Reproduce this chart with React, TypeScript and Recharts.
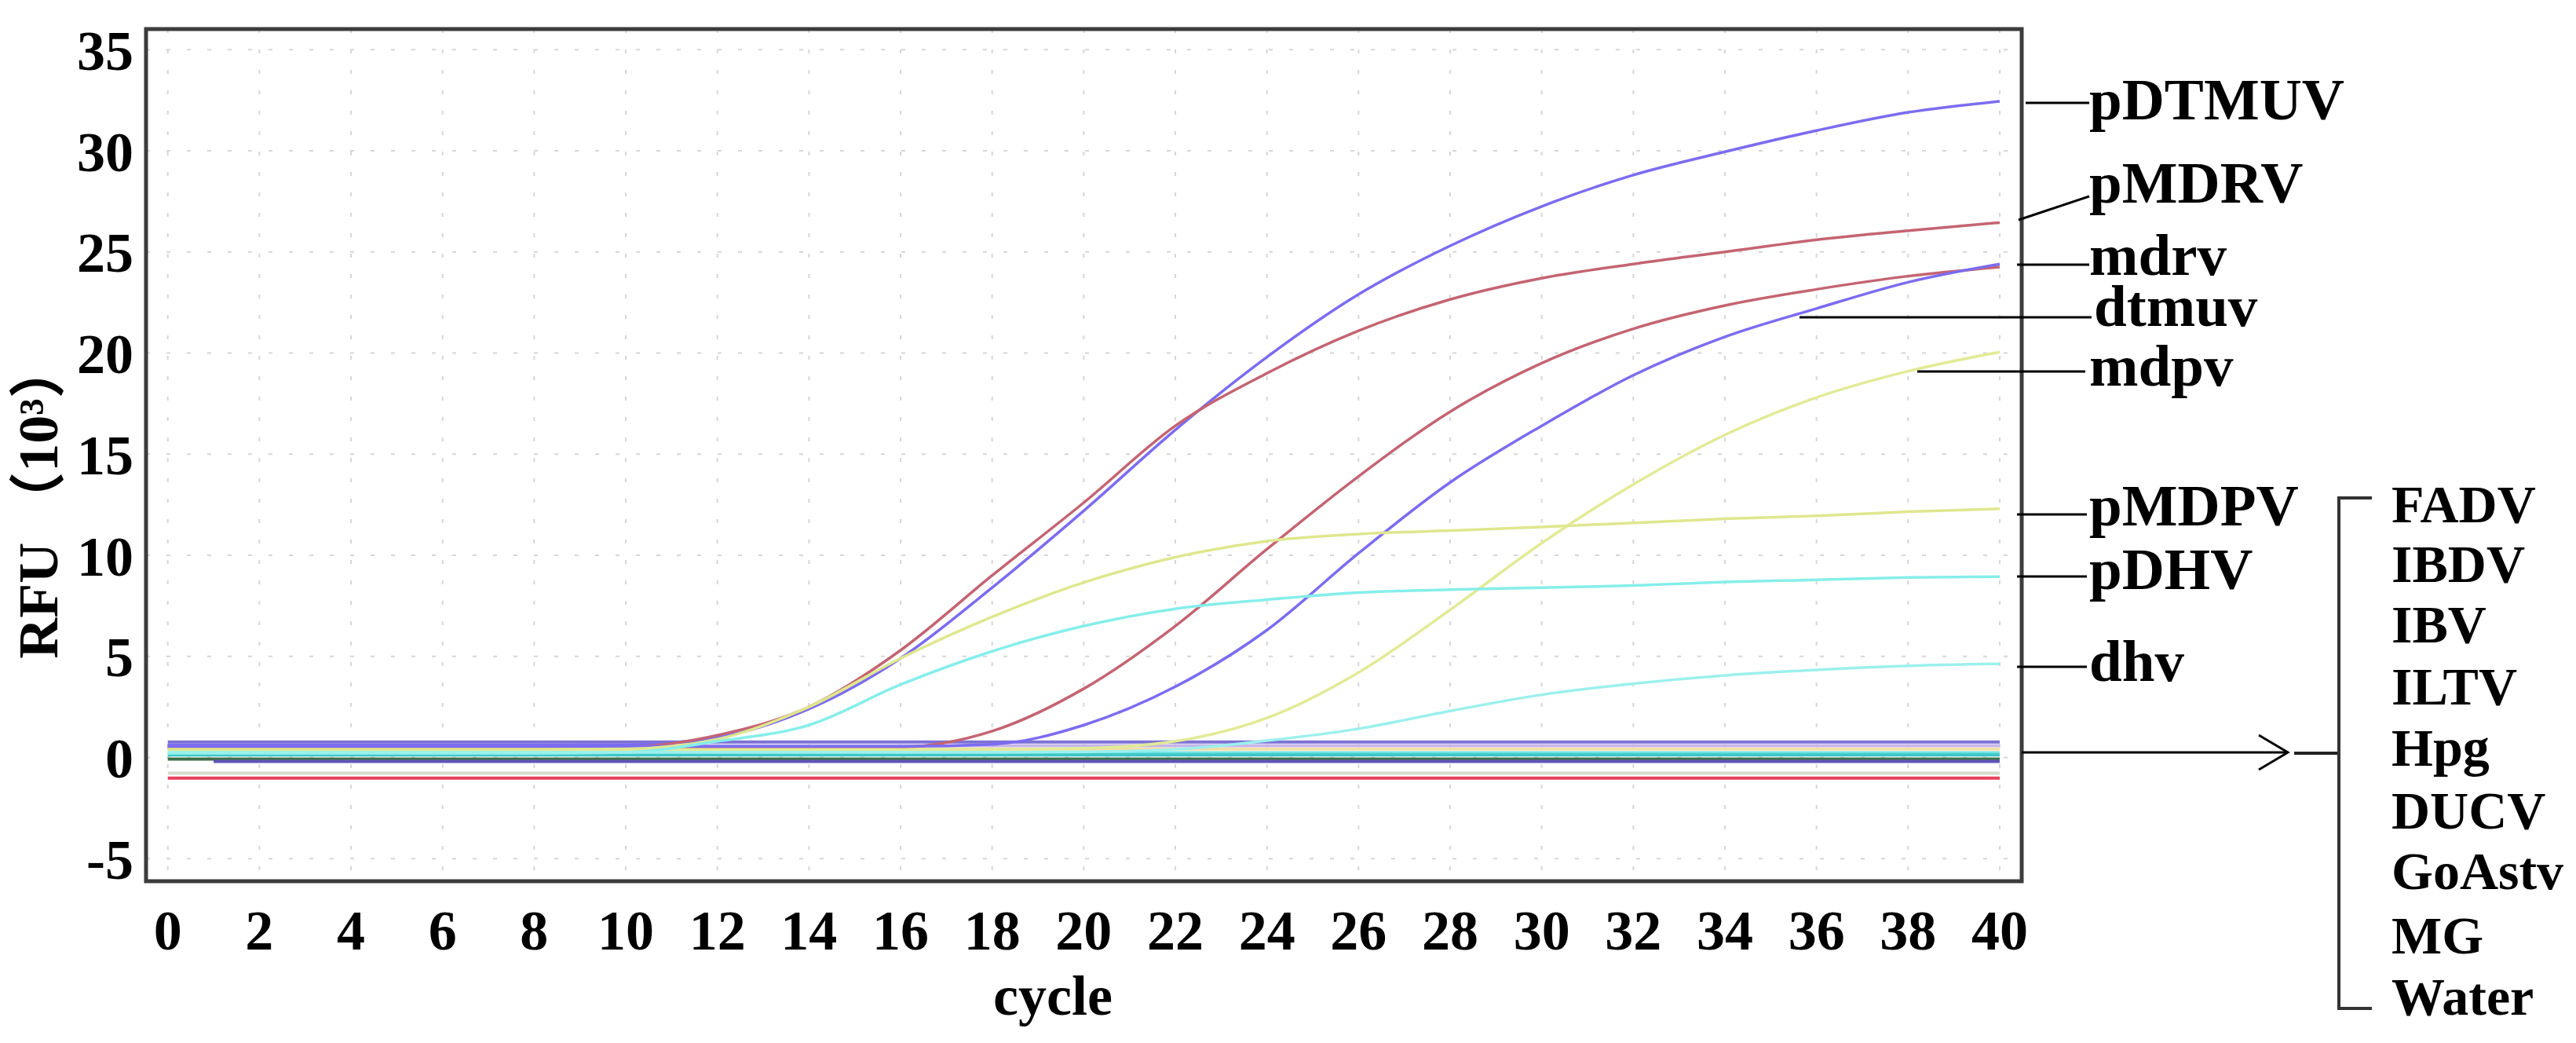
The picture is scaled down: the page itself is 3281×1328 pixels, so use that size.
import { LineChart, Line, XAxis, YAxis, CartesianGrid, ReferenceArea } from "recharts"

// cycles sampled every 2 for the amplification curves
const cycles = [0, 2, 4, 6, 8, 10, 12, 14, 16, 18, 20, 22, 24, 26, 28, 30, 32, 34, 36, 38, 40]

// RFU (x10^3)
const pDTMUV = [0.62, 0.62, 0.62, 0.62, 0.62, 0.63, 1.0, 2.4, 4.9, 8.4, 12.2, 16.2, 19.8, 22.9, 25.3, 27.25, 28.8, 29.95, 31.0, 31.9, 32.45]
const pMDRV = [0.5, 0.5, 0.5, 0.5, 0.5, 0.52, 1.1, 2.5, 5.3, 9.0, 12.6, 16.4, 19.0, 21.1, 22.65, 23.7, 24.4, 25.0, 25.6, 26.05, 26.45]
const mdrv = [0.45, 0.45, 0.45, 0.45, 0.45, 0.45, 0.45, 0.45, 0.5, 1.3, 3.4, 6.5, 10.3, 13.9, 17.1, 19.5, 21.2, 22.35, 23.15, 23.8, 24.25]
const dtmuv = [0.55, 0.55, 0.55, 0.55, 0.55, 0.55, 0.55, 0.55, 0.55, 0.65, 1.6, 3.5, 6.3, 10.1, 13.6, 16.4, 18.9, 20.8, 22.2, 23.5, 24.4]
const mdpv = [0.4, 0.4, 0.4, 0.4, 0.4, 0.4, 0.4, 0.4, 0.4, 0.4, 0.45, 0.8, 1.95, 4.2, 7.3, 10.6, 13.5, 15.95, 17.8, 19.1, 20.05]
const pMDPV = [0.4, 0.4, 0.4, 0.4, 0.4, 0.42, 0.9, 2.5, 4.9, 6.95, 8.65, 9.9, 10.7, 11.05, 11.22, 11.4, 11.6, 11.8, 11.95, 12.15, 12.3]
const pDHV = [0.2, 0.2, 0.2, 0.2, 0.2, 0.25, 0.8, 1.6, 3.6, 5.25, 6.5, 7.35, 7.8, 8.15, 8.3, 8.4, 8.5, 8.68, 8.78, 8.9, 8.94]
const dhv = [0.25, 0.25, 0.25, 0.25, 0.25, 0.25, 0.25, 0.25, 0.25, 0.25, 0.28, 0.4, 0.83, 1.42, 2.3, 3.1, 3.65, 4.06, 4.33, 4.53, 4.63]

// negative controls: flat lines
const negNames = ["FADV", "IBDV", "IBV", "ILTV", "Hpg", "DUCV", "GoAstv", "MG", "Water"]
const negLevels = [0.76, 0.58, 0.41, 0.23, 0.12, -0.08, -0.2, -0.78, -1.02]
const negStart = [0, 0, 0, 0, 0, 0, 1, 0, 0]
const negEnd = 40

const xTicks = [0, 2, 4, 6, 8, 10, 12, 14, 16, 18, 20, 22, 24, 26, 28, 30, 32, 34, 36, 38, 40]
const yTicks = [-5, 0, 5, 10, 15, 20, 25, 30, 35]

const X_DOMAIN = [-0.475, 40.48]
const Y_DOMAIN = [-6.12, 36.02]

const toPoints = (vals: number[]) => cycles.map((c, i) => ({ cycle: c, rfu: vals[i] }))

const curves = [
  { name: "pDTMUV", data: toPoints(pDTMUV), color: "#7b6cf0" },
  { name: "pMDRV", data: toPoints(pMDRV), color: "#c46472" },
  { name: "mdrv", data: toPoints(mdrv), color: "#c46472" },
  { name: "dtmuv", data: toPoints(dtmuv), color: "#7b6cf0" },
  { name: "mdpv", data: toPoints(mdpv), color: "#e2ea96" },
  { name: "pMDPV", data: toPoints(pMDPV), color: "#dfe78e" },
  { name: "pDHV", data: toPoints(pDHV), color: "#86eeea" },
  { name: "dhv", data: toPoints(dhv), color: "#9cf0ec" },
]

const negColors = ["#7d72d4", "#c6b6ea", "#f2dea6", "#6fe2e2", "#3ec6c6", "#3e6e48", "#6254b8", "#d4dccc", "#e8405c"]

const negatives = negNames.map((name, i) => ({
  name,
  color: negColors[i],
  data: [
    { cycle: negStart[i], rfu: negLevels[i] },
    { cycle: negEnd, rfu: negLevels[i] },
  ],
}))

// annotation layout (pixels)
const labelLayout: Record<string, { x: number; y: number; line: number[] }> = {
  pDTMUV: { x: 2661, y: 152, line: [2580, 131, 2661, 131] },
  pMDRV: { x: 2661, y: 258, line: [2571, 280, 2661, 250] },
  mdrv: { x: 2661, y: 350, line: [2569, 337, 2661, 337] },
  dtmuv: { x: 2667, y: 415, line: [2292, 404, 2664, 404] },
  mdpv: { x: 2661, y: 491, line: [2442, 473, 2656, 473] },
  pMDPV: { x: 2661, y: 669, line: [2569, 655, 2658, 655] },
  pDHV: { x: 2661, y: 750, line: [2569, 734, 2658, 734] },
  dhv: { x: 2661, y: 867, line: [2569, 849, 2658, 849] },
}
const negLabelX = 3046
const negLabelY = [665, 741, 818, 897, 975, 1055, 1132, 1214, 1292]

const FONT = "'Liberation Serif', 'Times New Roman', 'Noto Sans CJK SC', serif"

export default function App() {
  return (
    <div style={{ position: "relative", width: 3281, height: 1328, background: "#fff", fontFamily: FONT }}>
      <style>{`body{margin:0}`}</style>
      <LineChart width={3281} height={1328} margin={{ top: 37, right: 706, bottom: 0, left: 0 }}>
        <CartesianGrid stroke="#d6d6d6" strokeWidth={2} strokeDasharray="5 21" />
        <XAxis
          dataKey="cycle"
          type="number"
          domain={X_DOMAIN}
          allowDataOverflow
          ticks={xTicks}
          interval={0}
          height={206}
          axisLine={false}
          tickLine={false}
          tickSize={6}
          tickMargin={30}
          tick={{ fontSize: 72, fontWeight: "bold", fill: "#000", fontFamily: FONT }}
        />
        <YAxis
          type="number"
          domain={Y_DOMAIN}
          allowDataOverflow
          ticks={yTicks}
          interval={0}
          width={186}
          axisLine={false}
          tickLine={false}
          tickSize={6}
          tickMargin={10}
          tick={{ fontSize: 72, fontWeight: "bold", fill: "#000", fontFamily: FONT }}
        />
        {negatives.map((s) => (
          <Line
            key={s.name}
            data={s.data}
            dataKey="rfu"
            type="linear"
            stroke={s.color}
            strokeWidth={4}
            dot={false}
            isAnimationActive={false}
          />
        ))}
        {curves.map((s) => (
          <Line
            key={s.name}
            data={s.data}
            dataKey="rfu"
            type="monotone"
            stroke={s.color}
            strokeWidth={3.5}
            dot={false}
            isAnimationActive={false}
          />
        ))}
        <ReferenceArea
          x1={X_DOMAIN[0]}
          x2={X_DOMAIN[1]}
          y1={Y_DOMAIN[0]}
          y2={Y_DOMAIN[1]}
          fill="none"
          fillOpacity={0}
          stroke="#3c3c3c"
          strokeWidth={5}
          ifOverflow="visible"
        />
      </LineChart>

      <svg
        width={3281}
        height={1328}
        style={{ position: "absolute", left: 0, top: 0, pointerEvents: "none" }}
        fontFamily={FONT}
        fontWeight="bold"
      >
        <text x={49} y={637} transform="rotate(-90 49 637)" textAnchor="middle" dominantBaseline="central" fontSize={72} fill="#000">
          RFU （10³）
        </text>
        <text x={1341} y={1292} textAnchor="middle" fontSize={72} fill="#000">
          cycle
        </text>

        {curves.map((s) => {
          const l = labelLayout[s.name]
          return (
            <g key={s.name}>
              <line x1={l.line[0]} y1={l.line[1]} x2={l.line[2]} y2={l.line[3]} stroke="#000" strokeWidth={3} />
              <text x={l.x} y={l.y} fontSize={75} fill="#000">
                {s.name}
              </text>
            </g>
          )
        })}

        <line x1={2575} y1={958} x2={2912} y2={958} stroke="#000" strokeWidth={3} />
        <polyline points="2877,936 2914,958 2877,980" fill="none" stroke="#000" strokeWidth={3} />
        <line x1={2922} y1={959} x2={2979} y2={959} stroke="#222" strokeWidth={4} />
        <path d="M3021 634 H2979 V1284 H3021" fill="none" stroke="#333" strokeWidth={4} />
        {negatives.map((s, i) => (
          <text key={s.name} x={negLabelX} y={negLabelY[i]} fontSize={68} fill="#000">
            {s.name}
          </text>
        ))}
      </svg>
    </div>
  )
}
